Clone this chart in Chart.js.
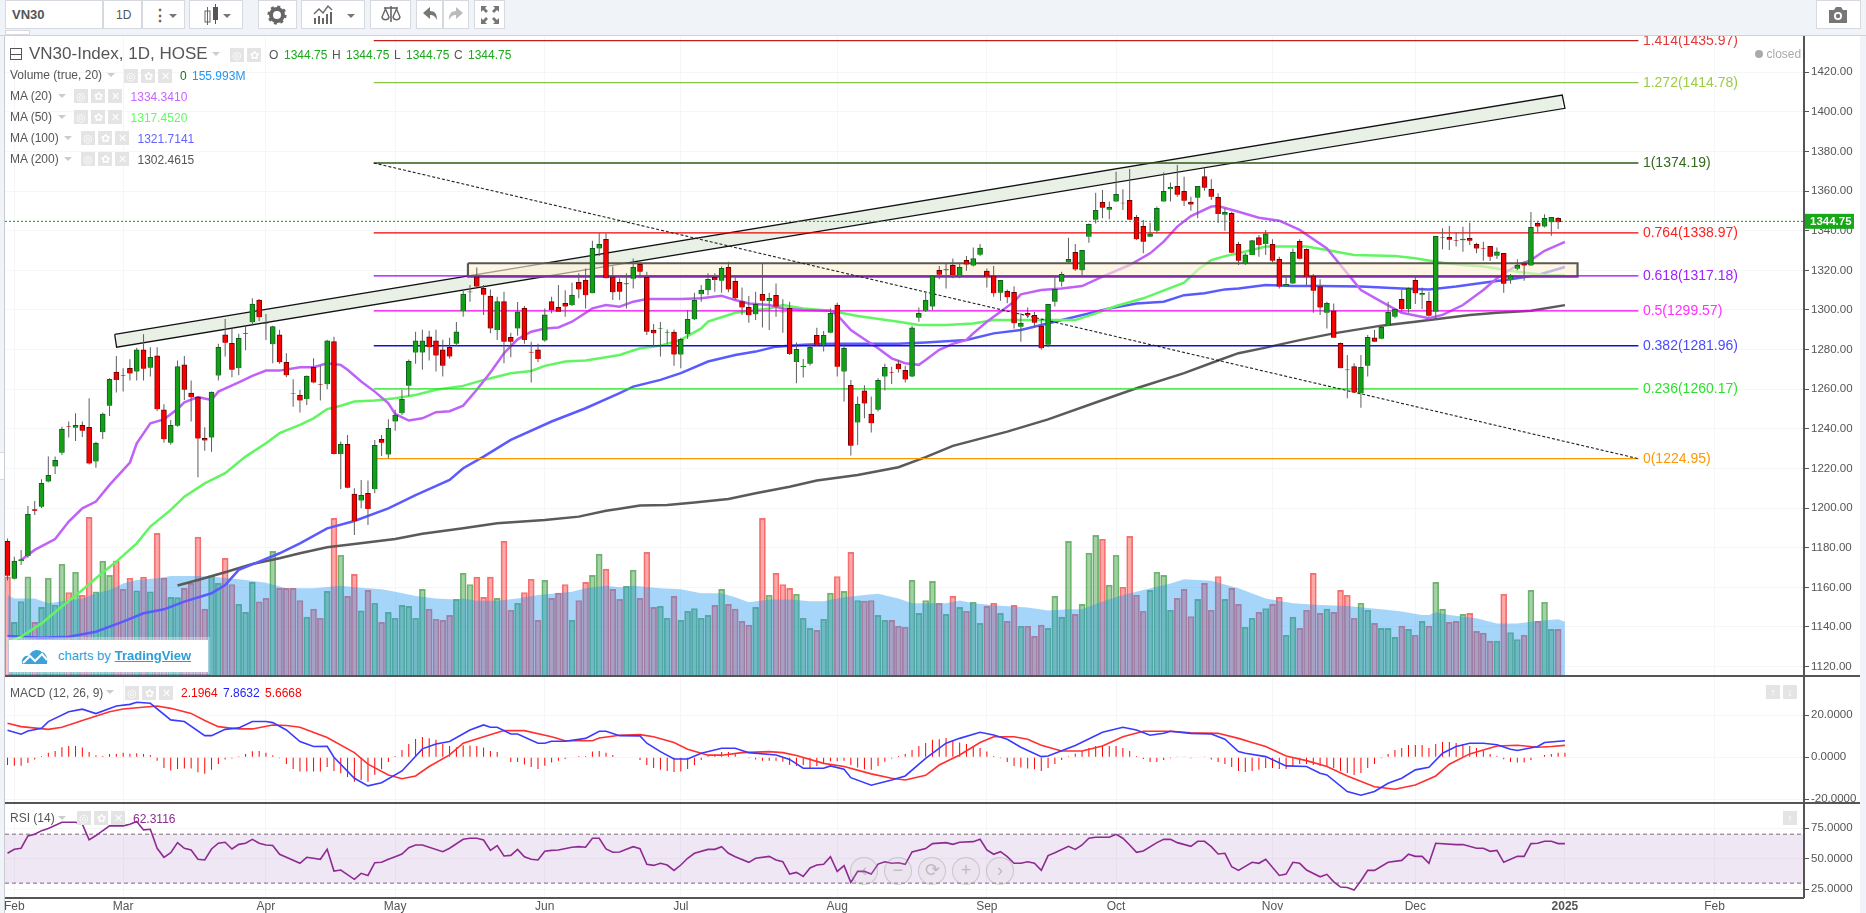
<!DOCTYPE html>
<html><head><meta charset="utf-8"><title>VN30</title>
<script src="https://cdn.jsdelivr.net/npm/chart.js@4"></script>
<style>
html,body{margin:0;padding:0;width:1866px;height:913px;overflow:hidden;background:#f0f3f8;font-family:"Liberation Sans",Arial,sans-serif;color:#555}
.a{position:absolute;white-space:nowrap}
canvas{position:absolute;left:0}
.btn{position:absolute;top:0;height:29px;background:#fff;border:1px solid #d6d9e0;box-sizing:border-box}
.ib{position:absolute;width:14px;height:14px;background:#e4e4e4;color:#fff;font-size:11px;line-height:14px;text-align:center}
.arrow{position:absolute;width:0;height:0;border-left:4px solid transparent;border-right:4px solid transparent;border-top:4px solid #ccc}
.rule{position:absolute;background:#555}
.nav{position:absolute;width:28px;height:28px;border-radius:50%;border:1.5px solid rgba(120,120,120,.28);background:rgba(210,210,210,.13);box-sizing:border-box;color:rgba(120,120,120,.4);font-size:18px;line-height:25px;text-align:center;top:857px}
.lg{font-size:12px;line-height:14px}
</style></head><body>
<div style="position:absolute;left:5px;top:36px;width:1855px;height:877px;background:#fff"></div>
<canvas id="cMain" width="1866" height="640" style="top:36px"></canvas>
<canvas id="cMacd" width="1866" height="126" style="top:676px"></canvas>
<canvas id="cRsi" width="1866" height="111" style="top:802px"></canvas>
<div id="ui"></div>
<script>
const opens=[1183.2,1164.4,1173.3,1175.8,1199.3,1200.7,1213.4,1221,1228,1241.3,1240.6,1241.8,1240.8,1223.5,1238.3,1251.7,1268.6,1267,1270.6,1268.9,1279.9,1270.9,1276.8,1249.6,1233,1241.6,1272.3,1258,1256,1235.2,1235.6,1266.9,1287.4,1283.2,1270.6,1288,1293.8,1305,1293,1282.7,1287.4,1273.6,1257.7,1257,1255.1,1271.1,1262.5,1262.5,1284,1227.3,1232.2,1207.1,1203.8,1207.5,1209.5,1234.7,1227,1243.7,1247.9,1261.8,1278.5,1278.5,1286.5,1284.4,1279.9,1281.2,1282.9,1299.5,1309,1316.8,1310.9,1307,1289.9,1304.2,1286.2,1290.7,1300.8,1278.7,1279.9,1284.6,1304.2,1301.3,1303.3,1302.5,1314,1315.1,1308.4,1331.1,1335.7,1316.8,1314,1313,1315.8,1323,1316.5,1289.9,1290.7,1288.5,1288.9,1277.5,1287.7,1295.3,1308,1310,1316.5,1314.8,1321.5,1314.5,1304.2,1301.3,1297.8,1307.9,1304.5,1307.4,1299,1300.8,1273.8,1271.4,1272.8,1287.2,1282.5,1288.5,1302.5,1268.9,1262,1243.2,1259.2,1247.4,1249.7,1266.4,1268.5,1272.8,1269.6,1266.4,1296.1,1299.6,1301.7,1320,1320.1,1322.5,1317.2,1325.1,1322.4,1327.9,1319.7,1317.3,1308.7,1309.4,1308.9,1291.6,1298.3,1297.3,1291.9,1282.4,1304.2,1314.3,1324.2,1329.1,1320,1337,1345.6,1354.3,1350.8,1354.7,1354,1355.3,1346.8,1342.2,1337,1340,1354.7,1361.2,1362.4,1359.9,1354.5,1356.7,1367.3,1360.9,1356.9,1348.1,1348.8,1333.1,1323.5,1327.8,1336.5,1333.3,1333.1,1325.6,1311.8,1313.4,1334.7,1330.6,1317.1,1311.8,1298.6,1299.6,1283.2,1269.8,1271.4,1258,1271.9,1286,1285.5,1292,1296.6,1305.4,1300.5,1315,1307.7,1304.4,1299.1,1336.5,1336.7,1335.2,1335.2,1336.2,1333.1,1331.1,1332.1,1327.4,1328.6,1315.5,1320.8,1323.4,1322.5,1343.9,1342.1,1344.3,1346.3,1344.75];
const highs=[1184.7,1175.5,1178.9,1201.1,1203.6,1214.5,1226,1226,1241,1243.7,1247.9,1243.7,1255.4,1233.5,1248.2,1265.5,1276.8,1270.6,1275.1,1281,1287.7,1281.2,1281.2,1252.4,1244.5,1274.5,1276.8,1264.4,1256.5,1240.8,1258.8,1283,1295.4,1290.7,1288,1292,1305.9,1305.5,1298,1292,1290,1278.2,1265,1259.7,1266.9,1275.6,1271.8,1285,1286.5,1233.6,1236.9,1210,1214.2,1213.9,1234.4,1236.9,1244.8,1249.6,1259.7,1275,1289,1290,1289.5,1290,1285,1286,1294,1310.4,1312.6,1321.5,1312.6,1310.4,1306.7,1309.2,1288.5,1304,1302,1284,1282.9,1300.8,1306.7,1312.6,1310,1313.8,1318.5,1321,1335,1338.7,1338.7,1322,1316,1318.5,1326,1324.4,1319.3,1292.9,1294,1290.2,1290.2,1286,1300,1308.7,1312.6,1318.5,1318.5,1321.9,1324.4,1317.7,1311.4,1307,1309.2,1323.5,1308.7,1313.4,1305.4,1304.2,1283.6,1275.3,1283,1291,1289.4,1300.8,1303.7,1283,1264.7,1256.3,1262,1256.3,1265.5,1272.8,1271.4,1274.8,1271.8,1292,1301.3,1308.7,1317.7,1322.2,1323.5,1326,1323.5,1327.2,1331.6,1333.3,1321,1322.2,1315.2,1310.4,1312,1298.3,1301.3,1299,1295,1302.8,1317.7,1319.3,1336.5,1333.3,1330.1,1343.6,1359.2,1360.6,1354.7,1369.8,1360.9,1371.2,1348,1345.4,1344,1352.2,1369.5,1364.3,1373.2,1367.3,1357.2,1362.6,1371.5,1366,1358.9,1351.3,1349.6,1334.5,1328.6,1335.3,1337.9,1340.4,1335.7,1326.9,1317.7,1331.1,1335.7,1331.1,1318.2,1315.5,1304.2,1303.3,1283.6,1277.3,1273.1,1277.3,1287.4,1289.9,1292.4,1304.2,1300.8,1310.4,1311.4,1316.8,1311.4,1309.2,1337.4,1341.2,1342.4,1339.2,1342,1344,1334,1334.5,1332.3,1331.6,1328.8,1318.2,1325.6,1324.4,1349.5,1345,1348.3,1346.8,1346.8,1344.75];
const lows=[1163.4,1164,1171.3,1175,1196.5,1200,1213,1217.2,1226.8,1235.6,1233.9,1235.9,1222,1220.4,1234.9,1246.5,1258.3,1258.8,1264.4,1264.4,1264.4,1266.4,1249,1233,1232,1241,1254.6,1243.7,1215.6,1229,1228.5,1264.4,1276.5,1266,1267,1279.7,1292,1294.4,1284.8,1273.1,1272.9,1266,1251.2,1248.2,1252.1,1263,1254.3,1260,1227,1209.7,1210,1186.4,1199.9,1191.5,1207.5,1226.3,1225.2,1239.1,1247,1256.6,1272.8,1269.8,1274.5,1268.9,1266.4,1275.5,1282,1296.6,1304.2,1311.5,1297.5,1288.2,1284.8,1273.1,1276.1,1287,1283,1263.4,1273.8,1284,1298.3,1299,1296.6,1302,1305.9,1300.8,1308.4,1327.2,1316,1305,1305,1300.8,1310.9,1316,1287.4,1282,1276.5,1283,1271.8,1270.6,1285.3,1295,1304.2,1307.5,1309.2,1308.7,1309,1305,1297.5,1293.6,1295,1291.1,1289.9,1296.6,1288.5,1277.3,1263,1265.9,1272,1282,1279,1288.2,1266.4,1253.8,1226.5,1231.9,1245.4,1238.1,1248.7,1259.3,1262.7,1268.4,1263.4,1266,1294.1,1299,1300,1315.5,1310.9,1316,1316,1319.8,1321.9,1327.2,1311.4,1306.7,1304.7,1303.4,1290.7,1284,1296,1291.6,1280,1281.2,1301.7,1311.8,1323.5,1319.8,1317.7,1334,1343.7,1346.3,1345.8,1354.7,1350.5,1345.4,1335.3,1328.6,1337,1338.7,1354.7,1354.7,1357.2,1352.5,1350.1,1346.3,1360.2,1355.5,1344,1340,1328.6,1322.7,1322.7,1327.8,1326.9,1327.8,1323.5,1310.9,1311.8,1313.1,1325.6,1312.6,1298.6,1297.5,1290.7,1286,1270.6,1255.5,1258.3,1250.7,1266.4,1284,1285.2,1292,1295.8,1299.1,1298.6,1303,1300.5,1296.6,1295.3,1330.6,1330.3,1332,1329.4,1332.8,1328.6,1324.9,1324.7,1325.7,1308.7,1313.3,1320,1314.8,1322.2,1338.7,1341.7,1337.5,1340.9,1344.75];
const closes=[1165.9,1173.3,1174,1196.9,1198.7,1212.5,1216.6,1224.1,1239.8,1241.2,1241.8,1239.1,1222.5,1232.7,1247.4,1265,1264.7,1266.9,1268,1279.9,1270.4,1276.1,1249.9,1234.7,1241.8,1271.4,1259.7,1256,1235.1,1234.1,1258.5,1281.2,1283.5,1269.8,1285.7,1288.2,1303,1296.3,1292.9,1291.6,1273.6,1267,1257.6,1254.3,1266.6,1263.4,1262.4,1284.4,1227.3,1232.2,1210.3,1193.5,1206.5,1199.6,1231.7,1233,1240.3,1246.9,1254.9,1274.1,1284.4,1284.4,1281.2,1277,1271.8,1276.5,1289,1308,1309.2,1311.8,1307.7,1290.7,1304.2,1284,1284,1299.1,1284.8,1278.6,1275.3,1297.5,1300,1299.1,1301.7,1307.5,1310.4,1307.5,1331.1,1333.1,1316,1308.9,1309.2,1313.3,1321.5,1319.3,1289,1288.2,1290.8,1288.6,1277.5,1285.2,1295.3,1304.9,1310,1315.5,1315.1,1321,1310.4,1305.9,1301.3,1297.3,1302.9,1304.7,1305.9,1301.7,1298.9,1277.8,1280.2,1271.6,1281.2,1282.5,1287.2,1298.3,1271.4,1280.7,1231.5,1252.4,1252.8,1242.8,1264.5,1271.1,1268.4,1270.1,1264.9,1291,1298.3,1305,1317.2,1317.8,1320.4,1317.7,1321.5,1322.9,1326,1331.3,1316.8,1308.4,1315,1306.4,1293.3,1293.3,1297.3,1293.6,1280.7,1302.8,1310.4,1318,1325.6,1320.5,1330.1,1343.2,1350.3,1351.6,1351.8,1358.4,1353.9,1345.6,1335.7,1334.5,1338.5,1351.3,1359.9,1362.1,1358.2,1355.2,1353.2,1362.4,1361.7,1357.2,1348.4,1349.3,1328.9,1324.9,1327.8,1335,1332.8,1338.4,1324.9,1311.8,1313,1329.1,1325.9,1316.8,1309.7,1301.2,1303.3,1286,1270.6,1269.7,1258.3,1271.1,1286.2,1284,1291.2,1298.8,1300.3,1300.5,1310.9,1308.4,1308.4,1297.1,1337.2,1336.6,1335.5,1335.1,1335.8,1335,1331,1331,1326.9,1329.3,1313.3,1317.2,1322.7,1322.4,1341.7,1342.1,1346.3,1346.8,1344.3,1344.75];
const volumes=[285,154,214,285,154,197,281,204,321,240,298,232,456,242,330,289,330,249,281,245,284,242,410,281,226,225,252,266,399,192,288,266,338,263,206,183,269,213,223,358,252,252,252,217,169,192,166,243,453,347,229,292,187,246,209,154,183,166,203,200,166,249,192,163,160,174,220,295,263,284,226,284,223,387,189,209,240,278,160,275,223,238,263,160,217,269,289,350,307,249,220,258,304,223,355,197,200,166,229,160,186,194,166,174,203,249,206,192,157,146,197,453,232,295,263,252,235,166,137,131,163,238,286,243,355,217,215,217,174,160,160,143,140,275,180,217,272,209,177,229,197,186,212,151,200,209,180,157,203,143,143,114,146,137,229,169,387,177,206,353,404,393,261,347,255,401,232,186,246,298,289,189,223,249,171,220,266,189,286,220,252,206,140,166,183,194,206,226,117,169,137,189,295,180,192,183,246,232,166,209,189,151,137,137,111,143,134,117,157,143,269,192,154,157,177,180,128,123,100,100,235,125,105,117,246,157,212,134,134,0];
const volumeMA=[[0,233],[1,223],[4,223],[6,209],[11,223],[13,238],[15,247],[17,266],[19,276],[22,281],[24,287],[28,287],[31,284],[35,276],[38,268],[41,252],[45,252],[49,259],[51,255],[55,249],[57,242],[60,230],[63,223],[66,220],[67,223],[69,216],[72,216],[75,223],[78,233],[80,236],[83,242],[85,252],[88,259],[90,255],[92,259],[96,252],[99,249],[102,238],[105,238],[107,226],[109,212],[112,220],[115,220],[118,215],[120,215],[123,226],[126,233],[128,236],[131,223],[133,209],[138,209],[140,217],[142,209],[146,202],[150,197],[153,188],[156,192],[158,192],[161,214],[164,233],[167,247],[171,266],[173,278],[177,274],[181,252],[185,223],[189,209],[193,204],[197,201],[202,192],[205,185],[208,175],[209,175],[210,183],[212,175],[216,166],[219,151],[222,151],[225,158],[228,163],[229,156]];
const ma20=[[2,1173.8],[4,1178.9],[7,1184.4],[9,1193.2],[11,1199.9],[13,1203.3],[15,1211.7],[18,1223],[19,1232.7],[21,1242.8],[23,1244.8],[25,1250],[26,1253.4],[28,1256],[30,1254.6],[31,1258.8],[34,1263.5],[36,1266.7],[38,1269.4],[40,1269.4],[43,1271.1],[45,1271.1],[47,1273.1],[49,1272.3],[50,1269.8],[52,1263.9],[54,1258.8],[56,1252.9],[57,1247.5],[59,1244.2],[61,1245.3],[63,1248.4],[65,1248.9],[67,1251.7],[69,1259.7],[71,1268.4],[73,1278.2],[75,1285.2],[77,1289],[79,1290.7],[81,1291.2],[83,1294.1],[86,1300.8],[88,1302.5],[90,1301.7],[92,1304.2],[94,1305.5],[96,1305.5],[99,1305.5],[102,1305.9],[105,1307.2],[107,1305],[109,1303.3],[112,1302.5],[114,1300.8],[117,1300],[121,1299.6],[122,1297.5],[124,1289.9],[126,1285.2],[128,1280.7],[130,1275.6],[132,1273.1],[134,1272.3],[135,1274.8],[137,1279.9],[139,1282.9],[141,1284.9],[142,1288.2],[144,1294.1],[146,1299.1],[148,1304.2],[149,1307.9],[152,1310.1],[155,1310.9],[158,1312.1],[161,1316.8],[165,1322.7],[168,1328.6],[170,1334.5],[172,1342.1],[174,1347.4],[177,1352.2],[178,1352.5],[181,1349.6],[184,1346.6],[187,1345.1],[190,1340.4],[194,1331.1],[197,1318.5],[199,1310.1],[202,1304.2],[205,1298.6],[209,1295.8],[211,1297.5],[214,1302.5],[217,1310.1],[219,1316],[222,1322.7],[224,1325.2],[226,1329.9],[229,1334.34]];
const ma50=[[0,1132],[2,1135.1],[5,1141.8],[8,1150.3],[11,1158.7],[13,1164.6],[16,1173],[19,1182.2],[21,1190.7],[24,1199.1],[26,1205.8],[29,1212.5],[32,1217.6],[35,1226],[38,1232.7],[40,1237.8],[43,1242],[45,1245.3],[47,1250],[49,1251.7],[51,1253.8],[54,1254.3],[57,1255.4],[60,1257.1],[63,1259.7],[67,1261.7],[70,1264.7],[74,1268.1],[77,1269.2],[79,1271.8],[82,1274],[85,1274.5],[88,1276.1],[90,1277.3],[93,1280.7],[96,1282],[99,1284.9],[102,1290.7],[103,1294.1],[106,1297.5],[107,1298.6],[112,1300.8],[114,1302.5],[117,1300.8],[121,1299.6],[125,1297],[131,1294.1],[134,1292.4],[138,1292.4],[142,1293.2],[145,1294.9],[151,1294.9],[157,1294.9],[160,1298.3],[163,1302],[167,1305.9],[173,1313.8],[175,1320.2],[177,1325.2],[179,1327.2],[181,1328.6],[185,1332],[189,1332],[191,1332],[194,1330.3],[198,1327.8],[204,1327.2],[207,1326.1],[211,1323.9],[214,1322.7],[217,1321.9],[222,1319.3],[226,1317.7],[229,1317.45]];
const ma100=[[0,1135.4],[5,1134.6],[9,1135.1],[13,1137.6],[17,1142.7],[20,1146.9],[23,1148.9],[26,1152.8],[30,1157],[32,1161.2],[34,1168.8],[37,1173],[40,1177.2],[43,1182.2],[47,1189.8],[51,1193.5],[56,1199.9],[60,1206.6],[65,1214.2],[67,1220.1],[70,1226],[74,1234.4],[80,1243.7],[85,1250.4],[90,1258],[92,1261.3],[96,1264.7],[99,1268.1],[103,1274],[107,1277.3],[110,1279],[113,1281.5],[117,1282.4],[121,1282.9],[126,1282.9],[131,1282.9],[135,1283.6],[141,1284.9],[145,1288.2],[149,1289.9],[152,1292.4],[154,1294.1],[157,1296.6],[162,1300.8],[166,1303.3],[170,1304.2],[173,1307.5],[176,1308.4],[179,1310.4],[181,1310.9],[185,1312.6],[189,1312.1],[193,1312.1],[199,1311.8],[205,1310.9],[209,1310.4],[213,1311.8],[217,1313.8],[221,1315.5],[225,1317.7],[229,1321.71]];
const ma200=[[25,1160.9],[28,1163.7],[32,1167.6],[36,1171.8],[40,1174.7],[43,1177.2],[47,1180.2],[51,1181.9],[57,1184.4],[61,1187],[67,1189.8],[72,1192.3],[79,1194],[84,1195.7],[88,1198.7],[90,1199.7],[93,1201.3],[97,1201.6],[101,1202.8],[106,1204.6],[110,1207.5],[115,1210.8],[119,1213.9],[125,1216.7],[131,1220.6],[135,1225.7],[139,1231.4],[147,1238.6],[153,1244.8],[160,1253.3],[166,1260.5],[173,1268.1],[178,1274.5],[181,1278.2],[185,1281],[190,1284.8],[195,1288.2],[202,1292.1],[207,1294.1],[215,1297.5],[219,1298.6],[224,1299.6],[229,1302.46]];
const macdLine=[[0,12.9],[2,11],[3,12.5],[5,13.8],[6,17],[9,21.7],[11,22.9],[13,20.8],[16,24.4],[18,25.2],[19,26.2],[21,25.7],[24,17.8],[26,17],[29,10.3],[30,10.3],[32,13.3],[34,14],[36,17],[38,17],[39,16.5],[41,13],[43,7.5],[45,5.1],[47,5.2],[48,0],[51,-10],[53,-13.6],[55,-12.1],[58,-6.5],[61,4],[63,6.3],[65,7.5],[68,13],[70,15.4],[71,14.3],[72,14.3],[74,11.1],[75,11.1],[78,6.7],[79,6.7],[80,7.6],[82,7.6],[85,9],[87,12.4],[88,12.4],[90,10.3],[93,10.2],[94,6.7],[96,2.7],[98,-0.8],[100,-0.8],[102,1.9],[105,4.3],[107,4.3],[109,2.2],[113,1.1],[115,-1],[117,-5.2],[120,-5.2],[121,-4.1],[123,-5.7],[124,-9.7],[127,-13.3],[130,-10.8],[132,-8.9],[135,-0.5],[138,6.7],[140,9],[143,11.9],[145,10.6],[147,8.6],[149,4.8],[152,0.3],[153,0.6],[157,5.6],[161,11.9],[164,14.3],[166,13],[168,10.5],[170,11.4],[171,12.4],[174,11.4],[177,11.1],[179,8.6],[181,2.7],[182,1.9],[185,0.3],[188,-4.1],[191,-4.4],[193,-7.6],[194,-8.4],[197,-16.3],[199,-18.1],[201,-16.3],[203,-12.4],[205,-10],[207,-6],[209,-4.8],[211,1.9],[213,5.1],[215,6.7],[217,6.7],[219,6],[221,3.8],[222,3.2],[225,5.1],[226,7],[229,7.86]];
const signalLine=[[0,16.2],[2,14.6],[6,13.3],[8,14.3],[11,17.5],[15,21.7],[17,23],[22,24.4],[24,23.3],[27,20.9],[29,17.5],[31,14.6],[34,13.5],[36,13.5],[39,15.4],[41,15.1],[43,14.3],[47,9.4],[51,2.2],[53,-3.3],[56,-8.4],[58,-10.2],[60,-8.9],[62,-4.4],[65,1.1],[67,6.7],[70,9.8],[73,12.7],[76,12.7],[80,9.8],[82,7.9],[86,7.9],[87,9.2],[90,10.5],[93,10.8],[95,9.8],[98,7],[100,3.8],[103,1],[105,1],[108,2.2],[112,2.7],[114,2.2],[116,0.8],[120,-2.9],[123,-4.4],[127,-7.9],[130,-10],[132,-10.8],[135,-8.6],[137,-3.7],[140,1.1],[143,7],[145,9.8],[148,9.8],[150,8.6],[152,5.7],[155,3],[158,3],[161,5.4],[164,9.8],[167,12.4],[171,12.4],[174,11.6],[178,11.4],[181,9],[183,7],[185,5.1],[188,0.6],[191,-1.6],[194,-4.4],[197,-8.9],[201,-14],[204,-15.2],[207,-13.2],[210,-8.9],[212,-3.3],[215,1.6],[219,5.4],[222,5.7],[225,4.8],[227,5.1],[229,5.67]];
const macdHist=[-3.7,-4,-4,-2.7,-1.1,0.6,2.1,3,4.8,5.4,5.4,4.6,2.5,1,0.6,1.6,1.6,2.1,1.7,1.9,1.6,1.1,-1.6,-5.1,-6.3,-5.6,-5.4,-5.4,-7.1,-7.8,-5.9,-3.2,-1.1,-0.6,0.5,1.6,2.9,3,2.1,1,-0.5,-3.2,-5.6,-6.8,-6.8,-6.8,-6.8,-4.6,-6.5,-7.6,-9.4,-11.6,-10.8,-11.6,-8.3,-5.7,-2.2,0.6,3.5,6.3,8.7,9.7,9,8.3,6.3,5.4,4.8,5.7,5.6,5.4,4.6,3,2.5,0,-2.2,-2.2,-3.5,-4.6,-5.6,-4,-2.5,-1.6,-0.8,0,0.6,0.6,2.7,3,2.1,1.1,0.3,0.3,0.3,-1.3,-3.7,-5.1,-6,-6.5,-7,-6.8,-5.6,-3.7,-1.3,0.6,1.3,2.5,2.5,1.6,0.3,-0.5,-1.1,-1.7,-1.7,-1.6,-2.1,-3.7,-4.1,-3.7,-5.1,-4.1,-3,-1.9,-1.9,-1.6,-3.7,-4.9,-5.7,-6,-4.1,-2.1,-0.6,0.6,1.6,3.5,5.4,6.8,8.3,8.6,9.2,7.9,7,6.3,5.4,4.4,2.7,0.6,-0.5,-2.2,-4.1,-4.9,-5.4,-5.7,-6.5,-5.1,-3.2,-1.3,0.5,1.7,3,4.4,5.4,5.6,5.4,5.4,4.4,3,0.6,-0.8,-2.2,-2.2,-1.3,-0.5,0.1,0.1,-0.5,0.2,0.1,-1.1,-2.2,-3.2,-4.6,-6.5,-7,-6.5,-6,-5.1,-5.1,-5.6,-5.6,-4.1,-3.2,-3.2,-3.7,-4.1,-4.1,-5.1,-6.5,-7.5,-8.4,-7.5,-5.1,-3.2,-0.5,1.6,3.5,4.4,5.9,5.9,5.9,4.4,6.3,7.3,7.3,6.8,6.3,5.4,4.4,3,1.6,0.6,-1,-2.2,-2.5,-2.5,-1.3,0.3,1.1,1.6,2.1,2.2];
const rsiLine=[[0,54.4],[1,57.7],[2,58.5],[3,68.6],[4,69.9],[5,72.9],[6,74.6],[8,79.8],[10,79.8],[11,78.1],[12,65.3],[13,68.9],[15,76.8],[17,76.8],[18,78.1],[19,80.3],[20,73.5],[21,74],[22,58.5],[23,51.1],[24,54.9],[25,63.1],[26,58.5],[27,57.1],[28,49.5],[29,48.9],[30,57.9],[31,62.6],[32,63.4],[33,57.9],[34,61.7],[35,62.6],[36,65.8],[37,62.6],[38,61.2],[39,60.7],[40,53.6],[41,51.1],[43,46.2],[44,51.1],[46,49.5],[47,57.7],[48,39.9],[49,40.7],[51,33.1],[52,38],[53,36.3],[54,46.7],[55,47],[56,49.5],[57,51.6],[58,53.8],[59,59],[60,61.2],[61,61.2],[64,55.7],[65,58.5],[67,65.8],[68,66.7],[69,66.7],[70,65.3],[71,56.8],[72,60.7],[73,52.2],[74,52.7],[75,57.6],[76,51.6],[77,49.5],[78,48.9],[79,56],[80,56.8],[81,57.1],[83,59.3],[84,59.8],[85,59.3],[86,66.7],[87,66.7],[88,57.9],[89,55.2],[90,55.5],[91,57.6],[92,59.8],[93,58.2],[94,45.4],[95,44.5],[96,46.2],[97,44.8],[98,40.4],[99,44.8],[100,50.3],[101,54.4],[103,57.6],[104,57.6],[105,59.8],[106,54.4],[107,51.6],[109,47],[110,50.3],[112,51.9],[113,48.9],[114,47.5],[115,37.4],[116,38.8],[117,35.5],[118,42.4],[119,44.8],[120,45.4],[121,51.6],[122,39.6],[123,44.3],[124,30.6],[125,39.6],[126,39.6],[127,37.4],[128,45.6],[129,47.5],[130,46.2],[131,46.7],[132,45.4],[133,55.5],[135,58.2],[136,62.3],[138,63.1],[139,61.7],[140,63.4],[142,63.9],[143,65.8],[144,57.1],[145,53.6],[146,55.7],[147,51.6],[148,46.2],[149,46.2],[150,47.5],[151,46.2],[152,40.4],[153,52.5],[154,54.9],[156,60.1],[157,57.6],[158,61.2],[159,66.7],[160,67.5],[162,67.5],[163,69.9],[164,66.7],[165,61.2],[166,55.2],[167,56.3],[169,63.1],[170,65.8],[171,65.8],[172,63.1],[174,60.1],[175,64.2],[176,64.2],[177,59.8],[178,53.8],[179,54.4],[180,43.4],[181,40.4],[183,47],[184,46.2],[185,49.5],[187,36.3],[188,37.4],[189,47],[190,46.2],[191,40.7],[193,35.2],[194,37.2],[195,31.1],[196,26.8],[197,26.5],[198,24.3],[199,32],[200,40.4],[201,40.4],[203,47],[205,48.6],[206,53.6],[207,51.9],[208,51.9],[209,46.2],[210,62.6],[213,61.5],[214,61.5],[216,58.5],[217,58.5],[218,56],[219,56.8],[220,47],[222,51.9],[223,51.9],[224,62.3],[225,62.6],[226,64.2],[227,64.2],[228,62.3],[229,62.31]];
const fibRatios=[1.414,1.272,1,0.764,0.618,0.5,0.382,0.236,0];
const fibPrices=[1435.97,1414.78,1374.19,1338.97,1317.18,1299.57,1281.96,1260.17,1224.95];
const fibLabelColors=['#e03a3a','#9ccc45','#33691e','#ff2020','#a020ff','#ff30ff','#4a4aff','#30e030','#ff9800'];
const fibLineColors=['#c02020','#8bc34a','#2e5a1a','#f00000','#a000ff','#f000f0','#1010e0','#20e020','#ff9800'];
const fibBars=[53.85,239.8];
const trendDiagonal=[[53.85,1374.19],[239.8,1224.95]];
const channelUpper=[[15.76,1287.7],[228.6,1408.5]];
const channelLower=[[16.04,1281.2],[229,1401.8]];
const zoneBars=[67.7,230.85];
const zonePrices=[1323.6,1316.8];
const lastPrice=1344.75;
const monthBars=[1,17,38,57,79,99,122,144,163,186,207,229,251];
const monthLabels=['Feb','Mar','Apr','May','Jun','Jul','Aug','Sep','Oct','Nov','Dec','2025','Feb'];
const priceTicks=[1120,1140,1160,1180,1200,1220,1240,1260,1280,1300,1320,1340,1360,1380,1400,1420];
const macdTicks=[-20,0,20];
const rsiTicks=[25,50,75];
const rsiBand=[30,70];

const X0=-0.37,X1=264.15;
const pts=a=>a.map(([x,y])=>({x,y}));
const FONT='"Liberation Sans",Arial,sans-serif';
const hline=(v,a=X0,b=X1)=>[{x:a,y:v},{x:b,y:v}];
const line=(data,color,w,extra={})=>Object.assign({type:'line',data,borderColor:color,borderWidth:w,pointRadius:0,tension:0,fill:false,yAxisID:'y'},extra);
function xScale(showLabels){return{type:'linear',min:X0,max:X1,offset:false,
  grid:{color:'#f5f6f7',drawTicks:false,lineWidth:1,offset:false},border:{display:false},
  afterBuildTicks:s=>{s.ticks=monthBars.map(v=>({value:v}))},
  ticks:{display:showLabels,autoSkip:false,maxRotation:0,padding:2,color:'#555',
    font:c=>({family:FONT,size:12,weight:monthLabels[monthBars.indexOf(c.tick&&c.tick.value)]==='2025'?'bold':'normal'}),
    callback:v=>monthLabels[monthBars.indexOf(v)]},
  afterFit:s=>{s.height=showLabels?15.3:0;s.paddingLeft=0;s.paddingRight=0}}}
function yScale(min,max,list,dec){return{type:'linear',position:'right',min,max,
  grid:{color:'#f5f6f7',tickColor:'#555',tickLength:5,lineWidth:1},border:{display:true,color:'#555',width:1.5},
  afterBuildTicks:s=>{s.ticks=list.map(v=>({value:v}))},
  ticks:{autoSkip:false,padding:2,color:'#555',font:{family:FONT,size:11.5},callback:v=>Number(v).toFixed(dec)},
  afterFit:s=>{s.width=62;s.paddingTop=0;s.paddingBottom=0}}}
const base={responsive:false,animation:false,devicePixelRatio:1,events:[],
  layout:{padding:{left:5,right:0,top:0,bottom:0}},
  plugins:{legend:{display:false},tooltip:{enabled:false}}};

const idx=closes.map((_,i)=>i);
const up=idx.map(i=>closes[i]>=opens[i]);
const fibLabels={id:'fibLabels',afterDatasetsDraw(ch){
  const c=ch.ctx,x=ch.scales.x,y=ch.scales.y;
  c.save();c.font='14px '+FONT;c.textBaseline='middle';c.textAlign='left';
  fibRatios.forEach((r,i)=>{c.fillStyle=fibLabelColors[i];
    c.fillText(r+'('+fibPrices[i].toFixed(2)+')',x.getPixelForValue(fibBars[1])+4.5,y.getPixelForValue(fibPrices[i])+0.5)});
  c.restore();},
  afterDraw(ch){const c=ch.ctx,y=ch.scales.y,py=y.getPixelForValue(lastPrice),ax=ch.chartArea.right;
  c.save();c.textBaseline='middle';c.textAlign='left';
  c.fillStyle='#17a817';c.fillRect(ax,py-7.5,50,15);
  c.fillStyle='#fff';c.font='bold 11.5px '+FONT;c.fillText(lastPrice.toFixed(2),ax+6,py+0.5);
  c.restore();}};

const zoneOutline=[[zoneBars[0],zonePrices[0]],[zoneBars[1],zonePrices[0]],[zoneBars[1],zonePrices[1]],[zoneBars[0],zonePrices[1]],[zoneBars[0],zonePrices[0]]];
const channelOutline=[channelUpper[0],channelUpper[1],channelLower[1],channelLower[0],channelUpper[0]];

new Chart(document.getElementById('cMain'),{type:'bar',plugins:[fibLabels],
 data:{datasets:[
  {type:'bar',yAxisID:'vol',order:100,grouped:false,barThickness:6,borderWidth:1,
   data:idx.map(i=>({x:i,y:volumes[i]})),
   backgroundColor:up.map(u=>u?'rgba(76,165,76,.5)':'rgba(255,82,82,.5)'),
   borderColor:up.map(u=>u?'rgba(60,150,60,.7)':'rgba(240,70,70,.75)')},
  line(pts(volumeMA),'rgba(33,150,243,0)',0,{yAxisID:'vol',order:90,fill:'origin',backgroundColor:'rgba(33,150,243,.4)'}),
  line(pts(ma200),'#5a5a5a',2.5,{order:83}),
  line(pts(ma100),'#5a5aff',2.5,{order:82}),
  line(pts(ma50),'#62f562',2.5,{order:81}),
  line(pts(ma20),'#bf62f8',2.5,{order:80}),
  line(pts(channelUpper),'rgba(0,0,0,0)',0,{order:72,fill:'+1',backgroundColor:'#e9f1e7'}),
  line(pts(channelLower),'rgba(0,0,0,0)',0,{order:72}),
  line(pts(channelOutline),'#111',1.3,{order:71}),
  line(hline(zonePrices[0],zoneBars[0],zoneBars[1]),'rgba(0,0,0,0)',0,{order:70,fill:'+1',backgroundColor:'rgba(255,240,214,.62)'}),
  line(hline(zonePrices[1],zoneBars[0],zoneBars[1]),'rgba(0,0,0,0)',0,{order:70}),
  line(pts(zoneOutline),'#5c5850',2.2,{order:69}),
  ...fibPrices.map((p,i)=>line(hline(p,fibBars[0],fibBars[1]),fibLineColors[i],1.3,{order:60})),
  line(pts(trendDiagonal),'#222',1.1,{order:59,borderDash:[3,2]}),
  {type:'bar',order:30,grouped:false,barThickness:1,borderWidth:0,inflateAmount:0,backgroundColor:'#5e5e5e',
   data:idx.map(i=>({x:i,y:[lows[i],highs[i]]}))},
  {type:'bar',order:20,grouped:false,barThickness:5,borderWidth:1,
   data:idx.map(i=>({x:i,y:[opens[i],closes[i]]})),
   backgroundColor:up.map(u=>u?'#14a014':'#f60000'),
   borderColor:up.map(u=>u?'#0f5c20':'#700000')},
  line(hline(lastPrice),'#0f9a0f',1,{order:10,borderDash:[2,2]})
 ]},
 options:{...base,scales:{x:xScale(false),y:yScale(1115.25,1438.3,priceTicks,2),
  vol:{type:'linear',display:false,position:'left',min:0,max:1839}}}});

new Chart(document.getElementById('cMacd'),{type:'bar',
 data:{datasets:[
  {type:'bar',order:5,barThickness:1,borderWidth:0,inflateAmount:0,backgroundColor:'#f00',data:idx.map(i=>({x:i,y:macdHist[i]}))},
  line(pts(signalLine),'#ff3030',1.6,{order:3}),
  line(pts(macdLine),'#3a3aff',1.6,{order:2})
 ]},
 options:{...base,scales:{x:xScale(false),y:yScale(-21.3,38.7,macdTicks,4)}}});

new Chart(document.getElementById('cRsi'),{type:'line',
 data:{datasets:[
  line(hline(rsiBand[1]),'#7a6a7a',1,{order:6,borderDash:[4,3],fill:'+1',backgroundColor:'rgba(142,68,173,.13)'}),
  line(hline(rsiBand[0]),'#7a6a7a',1,{order:6,borderDash:[4,3]}),
  line(pts(rsiLine),'#8e2a92',1.6,{order:2})
 ]},
 options:{...base,scales:{x:xScale(true),y:yScale(18.1,96.3,rsiTicks,4)}}});

/* page furniture */
const ui=document.getElementById('ui');
const add=h=>ui.insertAdjacentHTML('beforeend',h);
const btn=(l,r)=>add(`<div class="btn" style="left:${l}px;width:${r-l}px"></div>`);
const text=(l,cy,t,col,size=12,extra='')=>add(`<div class="a" style="left:${l}px;top:${cy-Math.round(size*0.6)}px;color:${col};font-size:${size}px;line-height:${Math.round(size*1.2)}px;${extra}">${t}</div>`);
const arrow=(l,cy,c='#ccc',s=4)=>add(`<div class="arrow" style="left:${l}px;top:${cy-2}px;border-top-color:${c};border-left-width:${s}px;border-right-width:${s}px;border-top-width:${s}px"></div>`);
const box3=(l,cy,n=3,gap=17,first='◎')=>{const g=[first,'✿','✕'];for(let i=0;i<n;i++)add(`<div class="ib" style="left:${l+i*gap}px;top:${cy-7}px">${g[i]}</div>`)};
add('<div class="rule" style="left:0;top:35px;width:1866px;height:1px;background:#cfd2d8"></div>');
add('<div class="rule" style="left:4px;top:36px;width:1px;height:877px;background:#c9ccd2"></div>');
add('<div class="a" style="left:0;top:452px;width:4px;height:26px;background:#fff;border-top:1px solid #d6d9e0;border-bottom:1px solid #d6d9e0"></div>');
btn(5,103);btn(103,142);btn(142,185);btn(189,243);btn(258,297);btn(301,365);btn(370,411);btn(416,443);btn(443,469);btn(474,505);btn(1816,1861);
add('<div class="a" style="left:5px;top:30px;width:25px;height:5px;background:#fff;border:1px solid #d6d9e0;box-sizing:border-box"></div>');
text(12,15,'VN30','#555',13,'font-weight:bold');
text(116,15,'1D','#555',12);
text(152,16,'⋮','#666',16,'font-weight:bold');
arrow(169,16,'#777');arrow(238-15,16,'#777');arrow(347,16,'#777');
const icon=(l,w,svg)=>add(`<svg class="a" style="left:${l}px;top:3px" width="${w}" height="24" viewBox="0 0 ${w} 24">${svg}</svg>`);
icon(203,24,'<rect x="2" y="8" width="5" height="11" fill="none" stroke="#666"/><line x1="4.5" y1="4" x2="4.5" y2="22" stroke="#666"/><rect x="10" y="4" width="5" height="13" fill="#555"/><line x1="12.5" y1="1" x2="12.5" y2="21" stroke="#555"/>');
add('<svg class="a" style="left:267px;top:5px" width="20" height="20" viewBox="0 0 20 20"><circle cx="10" cy="10" r="6" fill="none" stroke="#666" stroke-width="4"/><circle cx="10" cy="10" r="8.4" fill="none" stroke="#666" stroke-width="2.4" stroke-dasharray="3 3.6"/></svg>');
icon(312,24,'<g fill="#666"><rect x="2" y="15" width="2" height="6"/><rect x="6" y="13" width="2" height="8"/><rect x="10" y="15" width="2" height="6"/><rect x="14" y="11" width="2" height="10"/><rect x="18" y="9" width="2" height="12"/></g><polyline points="2,11 7,6 11,10 16,3 20,7" fill="none" stroke="#666" stroke-width="1.4"/>');
icon(381,20,'<line x1="10" y1="3" x2="10" y2="19" stroke="#666" stroke-width="1.6"/><line x1="3" y1="5" x2="17" y2="5" stroke="#666" stroke-width="1.6"/><path d="M1 14a3.6 3.6 0 0 0 7 0L4.500 6z M12 14a3.600 3.600 0 0 0 7 0L15.500 6z" fill="none" stroke="#666" stroke-width="1.4"/>');
icon(421,18,'<path d="M2 10 9 4v4c5 0 7 3 7 9-2-4-4-5-7-5v4z" fill="#777"/>');
icon(447,18,'<path d="M16 10 9 4v4c-5 0-7 3-7 9 2-4 4-5 7-5v4z" fill="#bbb"/>');
icon(480,20,'<g fill="#777"><path d="M1 3h6L5 5l3 3-2 2-3-3-2 2z"/><path d="M19 3h-6l2 2-3 3 2 2 3-3 2 2z"/><path d="M1 21h6l-2-2 3-3-2-2-3 3-2-2z"/><path d="M19 21h-6l2-2-3-3 2-2 3 3 2-2z"/></g>');
add('<svg class="a" style="left:1827px;top:6px" width="22" height="18" viewBox="0 0 22 18"><path d="M2 4h5l2-3h5l2 3h4v13H2z" fill="#777"/><circle cx="11" cy="10" r="4" fill="#fff"/><circle cx="11" cy="10" r="2.200" fill="#777"/></svg>');

add('<div class="a" style="left:10px;top:48px;width:12px;height:12px;border:1px solid #555;box-sizing:border-box"></div><div class="a" style="left:11px;top:53.500px;width:10px;height:1px;background:#555"></div>');
text(29,54,'VN30-Index, 1D, HOSE','#555',17);
arrow(212,54);box3(230,55,2,17);
const G='#1aa81a';
[['O',269],['H',332],['L',394],['C',454]].forEach(([k,l])=>text(l,55,k,'#555',12));
[284,346,406,468].forEach(l=>text(l,55,'1344.75',G,12));
text(10,75,'Volume (true, 20)','#555',12);arrow(107,75);box3(124,76);
text(180,76,'0','#0c7a0c',12);text(192,76,'155.993M','#2196f3',12);
[['MA (20)',96,'1334.3410','#c864ff',58,74,130.6],['MA (50)',117,'1317.4520','#5cff5c',58,74,130.6],['MA (100)',138,'1321.7141','#6464ff',64,81,137.5],['MA (200)',159,'1302.4615','#555',64,81,137.5]].forEach(([t,y,v,c,a,b,vx])=>{
  text(10,y,t,'#555',12);arrow(a,y);box3(b,y);text(vx,y+0.5,v,c,12)});
text(1766.5,53.500,'closed','#aaa',12);
add('<div class="a" style="left:1755px;top:50px;width:8px;height:8px;border-radius:50%;background:#aaa"></div>');

add('<div class="a" style="left:6px;top:637px;width:204px;height:37px;background:rgba(255,255,255,.35)"></div><div class="a" style="left:9px;top:640px;width:199px;height:32px;background:#fff"></div>');
add('<svg class="a" style="left:21px;top:648px" width="27" height="17" viewBox="0 0 27 17"><path d="M1 16C0 10 4 7 8 8 10 2 17 0 21 4c4 1 6 6 5 12z" fill="#3ba2db"/><polyline points="2,15 9,8 14,13 21,6 26,12" fill="none" stroke="#fff" stroke-width="2"/></svg>');
text(58,656,'charts by','#2a9fd8',13);
text(114.7,656,'TradingView','#2a9fd8',13,'font-weight:bold;text-decoration:underline;');

text(10,692.500,'MACD (12, 26, 9)','#555',12);arrow(106,692);box3(125,693);
text(181,693,'2.1964','#f00',12);text(223,693,'7.8632','#1f1fff',12);text(265,693,'5.6668','#f00',12);
text(10,818,'RSI (14)','#555',12);arrow(58,818);box3(77,818);text(133,818.500,'62.3116','#8e2a92',12);
add('<div class="ib" style="left:1766px;top:685px">↑</div><div class="ib" style="left:1783px;top:685px">↓</div><div class="ib" style="left:1783px;top:811px">↑</div>');
['‹','−','⟳','+','›'].forEach((g,i)=>add(`<div class="nav" style="left:${850+i*34}px">${g}</div>`));

add('<div class="rule" style="left:5px;top:675px;width:1855px;height:2px"></div>');
add('<div class="rule" style="left:5px;top:801.500px;width:1855px;height:2px"></div>');
add('<div class="rule" style="left:5px;top:897px;width:1799px;height:2px"></div>');
add('<div class="rule" style="left:1803px;top:36px;width:1.500px;height:862px"></div>');
</script>
</body></html>
